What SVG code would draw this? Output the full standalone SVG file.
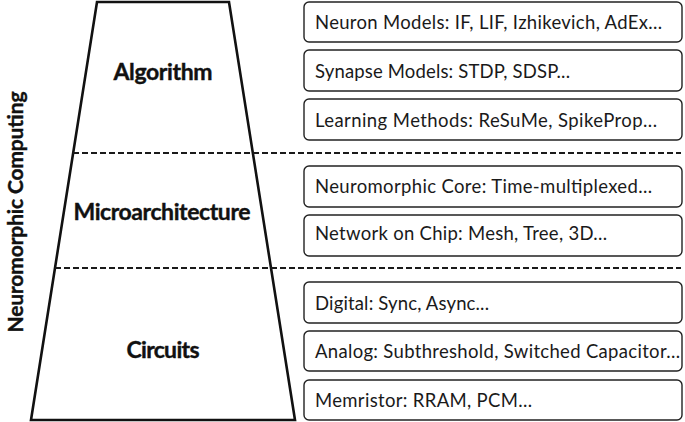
<svg xmlns="http://www.w3.org/2000/svg" width="685" height="422" viewBox="0 0 685 422">
<style>
.box{fill:#fff;stroke:#222;stroke-width:1.4}
.t{font-family:Lato,"Open Sans","Liberation Sans",sans-serif;font-size:18.5px;fill:#1a1a1a}
.h{font-family:Lato,"Open Sans","Liberation Sans",sans-serif;font-size:23px;font-weight:bold;fill:#111;text-anchor:middle;stroke:#111;stroke-width:0.4}
.dash{stroke:#1a1a1a;stroke-width:2;stroke-dasharray:6 3;fill:none}
</style>
<rect width="685" height="422" fill="#fff"/>
<g id="pyramid">
<polygon points="97,2 229,2 295,420 31,420" fill="#fff" stroke="#111" stroke-width="2.6" stroke-linejoin="miter"/>
</g>
<g id="connectors">
<line class="dash" x1="73" y1="153" x2="681" y2="153"/>
<line class="dash" x1="55" y1="268" x2="681" y2="268"/>
</g>
<g id="title"><text class="h" transform="translate(23,212) rotate(-90)" style="font-size:21px" textLength="241">Neuromorphic Computing</text></g>
<g id="algorithm"><text class="h" x="163" y="80" textLength="99">Algorithm</text></g>
<g id="microarchitecture"><text class="h" x="162" y="220" textLength="177">Microarchitecture</text></g>
<g id="circuits"><text class="h" x="163" y="358" textLength="73">Circuits</text></g>
<g id="neuron"><rect class="box" x="304" y="2" width="378" height="40" rx="5"/><text class="t" x="315" y="29" textLength="347">Neuron Models: IF, LIF, Izhikevich, AdEx...</text></g>
<g id="synapse"><rect class="box" x="304" y="50" width="378" height="41" rx="5"/><text class="t" x="315" y="78" textLength="255">Synapse Models: STDP, SDSP...</text></g>
<g id="learning"><rect class="box" x="304" y="99" width="378" height="41" rx="5"/><text class="t" x="315" y="127" textLength="342">Learning Methods: ReSuMe, SpikeProp...</text></g>
<g id="core"><rect class="box" x="304" y="166" width="378" height="41" rx="5"/><text class="t" x="315" y="193" textLength="337">Neuromorphic Core: Time-multiplexed...</text></g>
<g id="noc"><rect class="box" x="304" y="215" width="378" height="41" rx="5"/><text class="t" x="315" y="240" textLength="292">Network on Chip: Mesh, Tree, 3D...</text></g>
<g id="digital"><rect class="box" x="304" y="282" width="378" height="41" rx="5"/><text class="t" x="315" y="310" textLength="174">Digital: Sync, Async...</text></g>
<g id="analog"><rect class="box" x="304" y="331" width="378" height="40" rx="5"/><text class="t" x="315" y="358" textLength="365">Analog: Subthreshold, Switched Capacitor...</text></g>
<g id="memristor"><rect class="box" x="304" y="380" width="378" height="40" rx="5"/><text class="t" x="315" y="407" textLength="217">Memristor: RRAM, PCM...</text></g>
</svg>
